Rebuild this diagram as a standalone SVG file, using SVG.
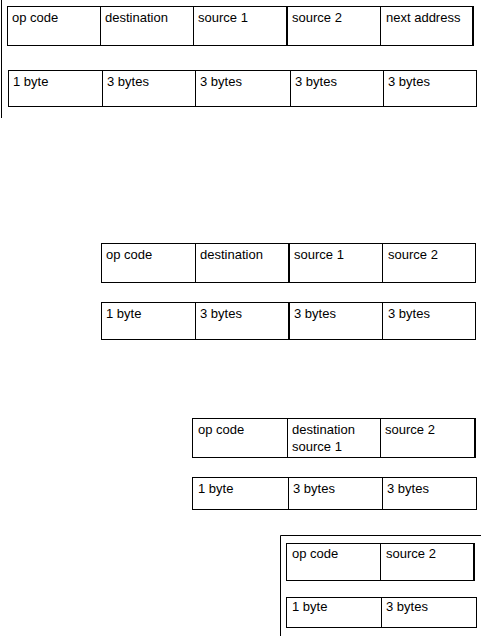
<svg xmlns="http://www.w3.org/2000/svg" width="481" height="636" viewBox="0 0 481 636">
<style>
rect.f{fill:none;stroke:#000;stroke-width:1}
line{stroke:#000;stroke-width:1}
line.t{stroke-width:2}
text{font-family:"Liberation Sans",Arial,sans-serif;font-size:13px;fill:#000}
</style>
<rect width="481" height="636" fill="#fff"/>
<g id="frame">
<line x1="1.5" y1="0" x2="1.5" y2="118"/>
<line x1="280.5" y1="535.5" x2="481" y2="535.5"/>
<line x1="280.5" y1="535.5" x2="280.5" y2="636"/>
</g>
<g id="format1-fields">
<rect class="f" x="7.5" y="6.5" width="466" height="39"/>
<line x1="100.5" y1="6" x2="100.5" y2="46"/>
<line x1="193.5" y1="6" x2="193.5" y2="46"/>
<line class="t" x1="287" y1="6" x2="287" y2="46"/>
<line x1="380.5" y1="6" x2="380.5" y2="46"/>
<line class="t" x1="473" y1="6" x2="473" y2="46"/>
<text x="12" y="22">op code</text>
<text x="105" y="22">destination</text>
<text x="198" y="22">source 1</text>
<text x="292" y="22">source 2</text>
<text x="386" y="22">next address</text>
</g>
<g id="format1-sizes">
<rect class="f" x="8.5" y="70.5" width="468" height="36"/>
<line x1="102.5" y1="70" x2="102.5" y2="107"/>
<line x1="195.5" y1="70" x2="195.5" y2="107"/>
<line x1="290.5" y1="70" x2="290.5" y2="107"/>
<line x1="383.5" y1="70" x2="383.5" y2="107"/>
<text x="13" y="86">1 byte</text>
<text x="107" y="86">3 bytes</text>
<text x="200" y="86">3 bytes</text>
<text x="295" y="86">3 bytes</text>
<text x="388" y="86">3 bytes</text>
</g>
<g id="format2-fields">
<rect class="f" x="101.5" y="243.5" width="374" height="39"/>
<line x1="195.5" y1="243" x2="195.5" y2="283"/>
<line class="t" x1="289" y1="243" x2="289" y2="283"/>
<line x1="382.5" y1="243" x2="382.5" y2="283"/>
<text x="106" y="259">op code</text>
<text x="200" y="259">destination</text>
<text x="294" y="259">source 1</text>
<text x="388" y="259">source 2</text>
</g>
<g id="format2-sizes">
<rect class="f" x="101.5" y="302.5" width="374" height="37"/>
<line x1="195.5" y1="302" x2="195.5" y2="340"/>
<line class="t" x1="289" y1="302" x2="289" y2="340"/>
<line x1="382.5" y1="302" x2="382.5" y2="340"/>
<text x="106" y="318">1 byte</text>
<text x="200" y="318">3 bytes</text>
<text x="294" y="318">3 bytes</text>
<text x="388" y="318">3 bytes</text>
</g>
<g id="format3-fields">
<rect class="f" x="192.5" y="418.5" width="282" height="39"/>
<line x1="287.5" y1="418" x2="287.5" y2="458"/>
<line x1="380.5" y1="418" x2="380.5" y2="458"/>
<line class="t" x1="475" y1="418" x2="475" y2="458"/>
<text x="198" y="434">op code</text>
<text x="292" y="434">destination</text>
<text x="292" y="451">source 1</text>
<text x="385" y="434">source 2</text>
</g>
<g id="format3-sizes">
<rect class="f" x="192.5" y="477.5" width="284" height="32"/>
<line x1="288.5" y1="477" x2="288.5" y2="510"/>
<line x1="382.5" y1="477" x2="382.5" y2="510"/>
<text x="198" y="493">1 byte</text>
<text x="293" y="493">3 bytes</text>
<text x="387" y="493">3 bytes</text>
</g>
<g id="format4-fields">
<rect class="f" x="286.5" y="543.5" width="188" height="37"/>
<line x1="380.5" y1="543" x2="380.5" y2="581"/>
<line class="t" x1="474" y1="543" x2="474" y2="581"/>
<text x="292" y="558">op code</text>
<text x="386" y="558">source 2</text>
</g>
<g id="format4-sizes">
<rect class="f" x="286.5" y="597.5" width="190" height="30"/>
<line x1="381.5" y1="597" x2="381.5" y2="628"/>
<text x="292" y="611">1 byte</text>
<text x="386" y="611">3 bytes</text>
</g>
</svg>
